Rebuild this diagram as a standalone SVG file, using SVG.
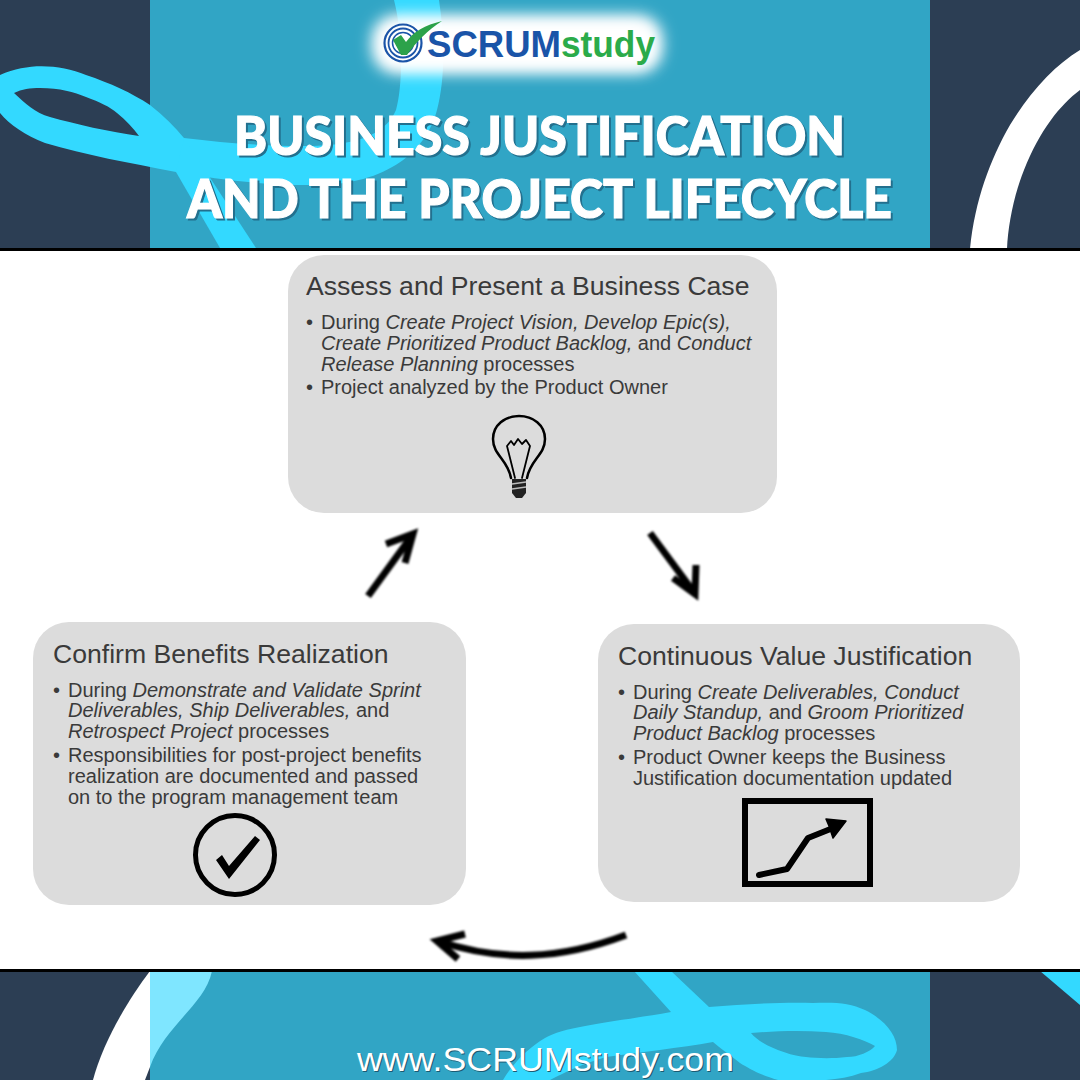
<svg xmlns="http://www.w3.org/2000/svg" width="1080" height="1080" viewBox="0 0 1080 1080">
<defs>
<filter id="glow" x="-20%" y="-60%" width="140%" height="220%"><feGaussianBlur stdDeviation="8"/></filter>
<filter id="blur1" x="-5%" y="-20%" width="110%" height="140%"><feGaussianBlur stdDeviation="0.8"/></filter>
<filter id="soft" x="-5%" y="-20%" width="110%" height="140%"><feGaussianBlur stdDeviation="0.6"/></filter>
</defs>
<style>
.rib{fill:#33d9ff}
.node{fill:#dcdcdc}
.h{font:26.600px "Liberation Sans",Arial,sans-serif;fill:#3a3a3a}
.b{font:20px "Liberation Sans",Arial,sans-serif;fill:#3a3a3a}
.i{font-style:italic}
.title{font:900 54px Lato,"Liberation Sans",sans-serif;fill:#fff;stroke:#fff;stroke-width:1.200}
.titleS{font:900 54px Lato,"Liberation Sans",sans-serif;fill:#23708e;stroke:#23708e;stroke-width:1.200}
.foot{font:33px "Liberation Sans",Arial,sans-serif}
.conn{fill:none;stroke:#000;stroke-width:7;stroke-linecap:butt;stroke-linejoin:miter}
.ic{fill:none;stroke:#000;stroke-linecap:round;stroke-linejoin:round}
</style>
<rect width="1080" height="1080" fill="#fff"/>
<g id="header">
<rect y="0" width="1080" height="249" fill="#2c3e54"/>
<rect x="150" y="0" width="780" height="249" fill="#31a5c5"/>
<path class="rib" fill-rule="evenodd" d="M0 75C30 62 60 65 86 75C110 83 132 93 150 105C164 116 175 127 184 138C225 143 265 146 305 146C350 146 385 137 396 110C403 85 403 35 394 0L439 0C445 40 445 80 437 110C428 145 395 183 320 185C270 186 220 180 176 172C130 163 85 155 45 143C25 135 10 125 0 113ZM14 93C22 89 30 88 40 88C60 88 74 92 86 97C100 102 110 107 117 113C126 120 133 128 139 136C110 132 75 124 50 117C35 113 25 103 14 93Z"/>
<path class="rib" d="M176 172L184 138L256 248L220 248Z"/>
<path fill="#fff" d="M970 249C975 200 990 160 1010 125C1030 92 1055 65 1080 50L1080 90C1060 105 1040 130 1024 170C1014 195 1008 225 1007 249Z"/>
</g>
<g id="logo">
<rect x="372" y="16" width="290" height="56" rx="24" fill="#fff" filter="url(#glow)"/>
<rect x="382" y="22" width="272" height="46" rx="16" fill="#fff" filter="url(#glow)"/>
<circle cx="403" cy="43" r="18.500" fill="none" stroke="#1a54a8" stroke-width="2.200"/>
<circle cx="403" cy="43" r="14.500" fill="none" stroke="#1a54a8" stroke-width="1.800"/>
<circle cx="403" cy="43" r="10.500" fill="none" stroke="#1a54a8" stroke-width="1.500"/>
<path d="M393 40L401 35L406 42C413 32 425 25 442 21C428 30 416 42 407 55L401 55Z" fill="#2ca24a"/>
<text x="427" y="57" font-family="Liberation Sans,sans-serif" font-weight="700" font-size="36" fill="#1a54a8" textLength="134" lengthAdjust="spacingAndGlyphs">SCRUM</text>
<text x="561" y="57" font-family="Liberation Sans,sans-serif" font-weight="700" font-size="36" fill="#2bab4a" textLength="94" lengthAdjust="spacingAndGlyphs">study</text>
</g>
<g id="title">
<text class="titleS" x="236" y="157" textLength="611" lengthAdjust="spacingAndGlyphs">BUSINESS JUSTIFICATION</text>
<text class="titleS" x="189" y="220" textLength="705" lengthAdjust="spacingAndGlyphs">AND THE PROJECT LIFECYCLE</text>
<text class="title" x="234" y="155" textLength="611" lengthAdjust="spacingAndGlyphs">BUSINESS JUSTIFICATION</text>
<text class="title" x="187" y="218" textLength="705" lengthAdjust="spacingAndGlyphs">AND THE PROJECT LIFECYCLE</text>
</g>
<rect x="0" y="248" width="1080" height="3" fill="#000"/>
<g id="footer">
<rect y="971" width="1080" height="109" fill="#2c3e54"/>
<rect x="150" y="971" width="780" height="109" fill="#31a5c5"/>
<path fill="#fff" d="M150 971L150 1067L145 1080L93 1080C103 1042 128 1000 150 971Z"/>
<path fill="#7fe6ff" d="M150 971L212 971C205 1005 165 1025 150 1067Z"/>
<path class="rib" fill-rule="evenodd" d="M634 971L671 971L709 1007C745 1004 785 1002 813 1003C835 1002 850 1003 865 1010C885 1020 897 1035 897 1050C894 1062 878 1071 861 1073C850 1077 838 1079 826 1080L778 1080C760 1075 748 1068 740 1063C730 1055 720 1048 713 1042C680 1048 640 1052 606 1057C585 1063 565 1072 550 1080L503 1080C515 1060 530 1047 545 1038C565 1026 615 1022 671 1012ZM751 1033C775 1031 800 1030 826 1032C845 1033 865 1040 875 1046C870 1052 858 1057 847 1057C830 1059 815 1058 806 1057C790 1056 760 1045 751 1033Z"/>
<path class="rib" d="M1040 971L1080 971L1080 1005Z"/>
<text class="foot" x="358" y="1072" fill="#1c5a72" textLength="377" lengthAdjust="spacingAndGlyphs">www.SCRUMstudy.com</text>
<text class="foot" x="357" y="1070.500" fill="#fff" textLength="377" lengthAdjust="spacingAndGlyphs">www.SCRUMstudy.com</text>
</g>
<rect x="0" y="969" width="1080" height="3" fill="#000"/>
<g id="node-assess">
<rect class="node" x="288" y="255" width="489" height="258" rx="36"/>
<text class="h" x="306" y="295">Assess and Present a Business Case</text>
<text class="b" x="306" y="329">•</text>
<text class="b" x="321" y="329">During <tspan class="i">Create Project Vision, Develop Epic(s),</tspan></text>
<text class="b i" x="321" y="350">Create Prioritized Product Backlog,<tspan style="font-style:normal"> and </tspan>Conduct</text>
<text class="b" x="321" y="371"><tspan class="i">Release Planning</tspan> processes</text>
<text class="b" x="306" y="394">•</text>
<text class="b" x="321" y="394">Project analyzed by the Product Owner</text>
<g filter="url(#soft)">
<path class="ic" stroke-width="2.500" d="M511 478C508 460 493 455 493 439C493 425 505 416 519 416C533 416 545 425 545 439C545 455 530 460 527 478"/>
<path class="ic" stroke-width="1.800" d="M515 478L507 446L511 441L514 445L518 439L522 444L526 440L530 446L522 478"/>
<path d="M512 479H526V493L522 498H516L512 493Z" fill="#222"/>
<path d="M512 484L526 482M512 489L526 487" stroke="#bbb" stroke-width="1.300"/>
</g>
</g>
<g id="node-confirm">
<rect class="node" x="33" y="622" width="433" height="283" rx="36"/>
<text class="h" x="53" y="663">Confirm Benefits Realization</text>
<text class="b" x="53" y="697">•</text>
<text class="b" x="68" y="697">During <tspan class="i">Demonstrate and Validate Sprint</tspan></text>
<text class="b i" x="68" y="717">Deliverables, Ship Deliverables,<tspan style="font-style:normal"> and</tspan></text>
<text class="b" x="68" y="738"><tspan class="i">Retrospect Project</tspan> processes</text>
<text class="b" x="53" y="762">•</text>
<text class="b" x="68" y="762">Responsibilities for post-project benefits</text>
<text class="b" x="68" y="783">realization are documented and passed</text>
<text class="b" x="68" y="804">on to the program management team</text>
<g filter="url(#soft)">
<circle class="ic" cx="235" cy="855" r="39.500" stroke-width="5"/>
<path d="M216 860L222 855L229 866L255 836L260 840L229 879Z" fill="#000"/>
</g>
</g>
<g id="node-continuous">
<rect class="node" x="598" y="624" width="422" height="278" rx="36"/>
<text class="h" x="618" y="665">Continuous Value Justification</text>
<text class="b" x="618" y="699">•</text>
<text class="b" x="633" y="699">During <tspan class="i">Create Deliverables, Conduct</tspan></text>
<text class="b" x="633" y="719"><tspan class="i">Daily Standup,</tspan> and <tspan class="i">Groom Prioritized</tspan></text>
<text class="b" x="633" y="740"><tspan class="i">Product Backlog</tspan> processes</text>
<text class="b" x="618" y="764">•</text>
<text class="b" x="633" y="764">Product Owner keeps the Business</text>
<text class="b" x="633" y="785">Justification documentation updated</text>
<g filter="url(#soft)">
<rect x="745" y="801" width="125" height="83" fill="none" stroke="#000" stroke-width="6"/>
<path class="ic" stroke-width="6" d="M759 875L787 869L808 838L838 826"/>
<path d="M846 821L826 819L829 826L833 838Z" fill="#000" stroke="#000" stroke-width="1.500" stroke-linejoin="round"/>
</g>
</g>
<g id="connectors" filter="url(#blur1)">
<path class="conn" d="M368 596L411 537"/>
<path class="conn" stroke-linecap="round" d="M386 544L413 534L405 563"/>
<path class="conn" d="M650 533L693 591"/>
<path class="conn" stroke-linecap="round" d="M696 565L695 594L673 578"/>
<path class="conn" d="M626 935C560 960 500 962 438 941"/>
<path class="conn" stroke-linecap="round" d="M465 934L437 941L458 959"/>
</g>
</svg>
